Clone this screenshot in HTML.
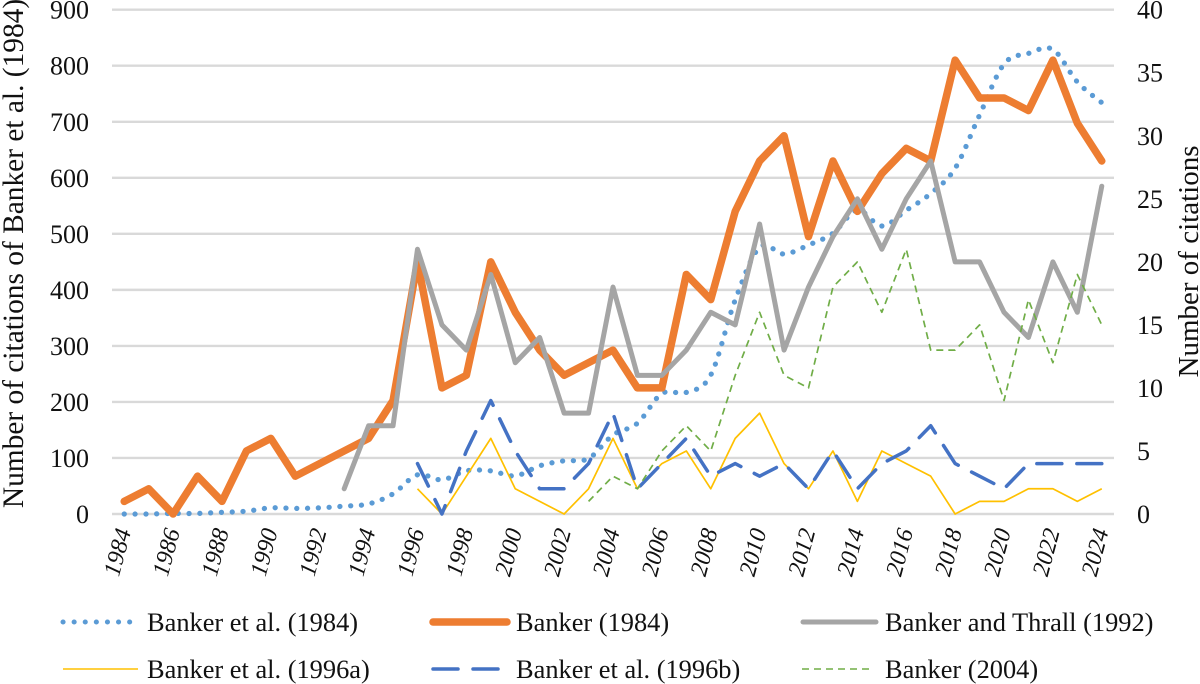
<!DOCTYPE html>
<html lang="en">
<head>
<meta charset="utf-8">
<title>Citations of Banker et al. (1984) and related papers</title>
<style>
html,body{margin:0;padding:0;background:#fff;}
svg{display:block;}
text{font-family:"Liberation Serif",serif;fill:#111;}
</style>
</head>
<body>
<svg id="chart" xmlns="http://www.w3.org/2000/svg" width="1200" height="684" viewBox="0 0 1200 684">
  <g id="grid"></g>
  <g id="series"></g>
  <g id="axes"></g>
  <text transform="translate(23,253.5) rotate(-90)" text-anchor="middle" font-size="29.4">Number of citations of Banker et al. (1984)</text>
  <text transform="translate(1198,261.5) rotate(-90)" text-anchor="middle" font-size="29">Number of citations</text>
  <g font-size="26.4">
    <g>
      <line x1="63" y1="622" x2="131" y2="622" stroke="#5b9bd5" stroke-width="5" stroke-linecap="round" stroke-dasharray="0.1 11"/>
      <text x="147" y="631">Banker et al. (1984)</text>
    </g>
    <g>
      <line x1="433" y1="622" x2="507" y2="622" stroke="#ed7d31" stroke-width="7.5" stroke-linecap="round"/>
      <text x="516" y="631">Banker (1984)</text>
    </g>
    <g>
      <line x1="803" y1="622" x2="876" y2="622" stroke="#a5a5a5" stroke-width="5" stroke-linecap="round"/>
      <text x="885" y="631">Banker and Thrall (1992)</text>
    </g>
    <g>
      <line x1="63" y1="669" x2="138" y2="669" stroke="#ffc000" stroke-width="1.6"/>
      <text x="147" y="678">Banker et al. (1996a)</text>
    </g>
    <g>
      <line x1="433" y1="669" x2="499" y2="669" stroke="#4472c4" stroke-width="3.5" stroke-linecap="round" stroke-dasharray="25 15"/>
      <text x="516" y="678">Banker et al. (1996b)</text>
    </g>
    <g>
      <line x1="802" y1="669" x2="872" y2="669" stroke="#70ad47" stroke-width="1.6" stroke-dasharray="7 5"/>
      <text x="885" y="678">Banker (2004)</text>
    </g>
  </g>
</svg>
<script>
// Data
const years = [1984,1985,1986,1987,1988,1989,1990,1991,1992,1993,1994,1995,1996,1997,1998,1999,2000,2001,2002,2003,2004,2005,2006,2007,2008,2009,2010,2011,2012,2013,2014,2015,2016,2017,2018,2019,2020,2021,2022,2023,2024];
const leftTicks = [0,100,200,300,400,500,600,700,800,900];
const rightTicks = [0,5,10,15,20,25,30,35,40];
// Left axis, starting 1984
const bankerEtAl1984 = [0,0,1,1,3,5,11,10,11,14,18,36,70,61,77,77,68,86,95,99,141,162,215,217,248,382,476,464,480,501,542,514,542,572,617,712,803,822,829,771,734];
// Right axis, starting 1984
const banker1984 = [1,2,0,3,1,5,6,3,4,5,6,9,20,10,11,20,16,13,11,12,13,10,10,19,17,24,28,30,22,28,24,27,29,28,36,33,33,32,36,31,28];
// Right axis, starting 1993
const bankerThrall1992 = [2,7,7,21,15,13,19,12,14,8,8,18,11,11,13,16,15,23,13,18,22,25,21,25,28,20,20,16,14,20,16,26];
// Right axis, starting 1996
const bankerEtAl1996a = [2,0,3,6,2,1,0,2,6,2,4,5,2,6,8,4,2,5,1,5,4,3,0,1,1,2,2,1,2];
const bankerEtAl1996b = [4,0,5,9,5,2,2,4,8,2,4,6,3,4,3,4,2,5,2,4,5,7,4,3,2,4,4,4,4];
// Right axis, starting 2003
const banker2004 = [1,3,2,5,7,5,11,16,11,10,18,20,16,21,13,13,15,9,17,12,19,15];

const NS = 'http://www.w3.org/2000/svg';
const plotLeft = 112, plotRight = 1114, plotTop = 9.7, plotBottom = 514;
const leftMax = 900, rightMax = 40;
function xScale(year){
  const step = (plotRight - plotLeft) / years.length;
  return plotLeft + step * (year - years[0] + 0.5);
}
function yLeft(v){ return plotBottom - v / leftMax * (plotBottom - plotTop); }
function yRight(v){ return plotBottom - v / rightMax * (plotBottom - plotTop); }
function linePath(pts){
  return pts.map((p,i)=>(i?'L':'M')+p[0].toFixed(2)+' '+p[1].toFixed(2)).join(' ');
}
function smoothPath(pts){
  let d = 'M'+pts[0][0].toFixed(2)+' '+pts[0][1].toFixed(2);
  for(let i=0;i<pts.length-1;i++){
    const p0=pts[Math.max(i-1,0)],p1=pts[i],p2=pts[i+1],p3=pts[Math.min(i+2,pts.length-1)];
    const c1x=p1[0]+(p2[0]-p0[0])/6,c1y=p1[1]+(p2[1]-p0[1])/6;
    const c2x=p2[0]-(p3[0]-p1[0])/6,c2y=p2[1]-(p3[1]-p1[1])/6;
    d+=' C'+c1x.toFixed(2)+' '+c1y.toFixed(2)+' '+c2x.toFixed(2)+' '+c2y.toFixed(2)+' '+p2[0].toFixed(2)+' '+p2[1].toFixed(2);
  }
  return d;
}
function points(values,startYear,y){
  return values.map((v,i)=>[xScale(startYear+i),y(v)]);
}

// Gridlines
const gridGroup = document.getElementById('grid');
leftTicks.forEach(function(t){
  const gl = document.createElementNS(NS,'line');
  
  
  gl.setAttribute('x1',plotLeft);
  gl.setAttribute('x2',plotRight);
  gl.setAttribute('y1',yLeft(t));
  gl.setAttribute('y2',yLeft(t));
  gl.setAttribute('stroke','#d9d9d9');
  gl.setAttribute('stroke-width','2.4');
  gridGroup.appendChild(gl);
});

// Series
const seriesGroup = document.getElementById('series');
function addSeries(name,d,stroke,width,dash,cap){
  const p = document.createElementNS(NS,'path');
  
  
  p.setAttribute('d',d);
  p.setAttribute('fill','none');
  p.setAttribute('stroke',stroke);
  p.setAttribute('stroke-width',width);
  p.setAttribute('stroke-linejoin','round');
  p.setAttribute('stroke-linecap',cap);
  if(dash) p.setAttribute('stroke-dasharray',dash);
  seriesGroup.appendChild(p);
}
addSeries('line-banker-et-al-1984',smoothPath(points(bankerEtAl1984,1984,yLeft)),'#5b9bd5',5.2,'0.1 10.7','round');
addSeries('line-banker-1984',linePath(points(banker1984,1984,yRight)),'#ed7d31',7.5,null,'round');
addSeries('line-banker-thrall-1992',linePath(points(bankerThrall1992,1993,yRight)),'#a5a5a5',5,null,'round');
addSeries('line-banker-et-al-1996a',linePath(points(bankerEtAl1996a,1996,yRight)),'#ffc000',1.7,null,'butt');
addSeries('line-banker-et-al-1996b',linePath(points(bankerEtAl1996b,1996,yRight)),'#4472c4',3.5,'25 15','round');
addSeries('line-banker-2004',linePath(points(banker2004,2003,yRight)),'#70ad47',1.7,'7 5','butt');

// Axis labels
const axesGroup = document.getElementById('axes');
leftTicks.forEach(function(t){
  const tl = document.createElementNS(NS,'text');
  
  
  tl.setAttribute('x',89);
  tl.setAttribute('y',yLeft(t)+9);
  tl.setAttribute('text-anchor','end');
  tl.setAttribute('font-size','26');
  tl.textContent = t;
  axesGroup.appendChild(tl);
});
rightTicks.forEach(function(t){
  const tr = document.createElementNS(NS,'text');
  
  
  tr.setAttribute('x',1137);
  tr.setAttribute('y',yRight(t)+9);
  tr.setAttribute('font-size','26');
  tr.textContent = t;
  axesGroup.appendChild(tr);
});
years.forEach(function(yr,i){
  if(i % 2) return;
  const tx = document.createElementNS(NS,'text');
  
  
  tx.setAttribute('transform','translate('+(xScale(yr)+7)+',531) rotate(-75)');
  tx.setAttribute('text-anchor','end');
  tx.setAttribute('font-size','24');
  tx.setAttribute('font-style','italic');
  tx.textContent = yr;
  axesGroup.appendChild(tx);
});
</script>
</body>
</html>
